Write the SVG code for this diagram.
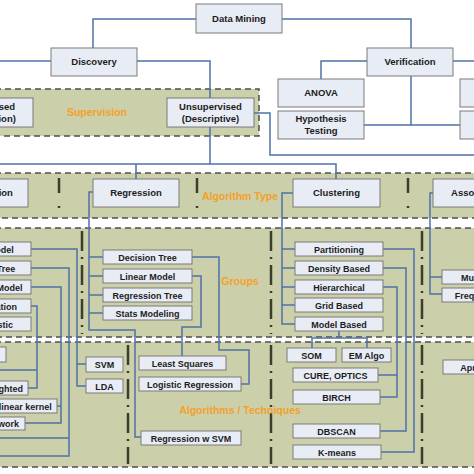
<svg xmlns="http://www.w3.org/2000/svg" width="474" height="474" viewBox="0 0 474 474">
<style>
.band{fill:#ccd0aa;stroke:#4e4e4e;stroke-width:1.5;stroke-dasharray:6 4}
.n rect{fill:#e8ecf5;stroke:#7a7a7a;stroke-width:1}
.t{font-family:"Liberation Sans",Arial,sans-serif;font-weight:700;font-size:9px;fill:#1c1c1c;text-anchor:middle}
.b{font-size:9.5px}
.lbl{font-family:"Liberation Sans",Arial,sans-serif;font-weight:700;font-size:10.5px;fill:#f2a12b;text-anchor:middle}
.conn path{fill:none;stroke:#4f72a6;stroke-width:1.5}
.sep{stroke:#3b3e2b;stroke-width:2.5;fill:none}
.s2{stroke-dasharray:15 13 2 40}
.s3{stroke-dasharray:20 6 2 6}
</style>
<rect width="474" height="474" fill="#ffffff"/>
<g id="bands">
<rect class="band" x="-5" y="89" width="264" height="47"/>
<rect class="band" x="-5" y="173" width="484" height="45"/>
<rect class="band" x="-5" y="228" width="484" height="109"/>
<rect class="band" x="-5" y="342" width="484" height="125"/>
</g>
<g id="separators">
<path class="sep s2" d="M59,178V212M197,178V212M408,178V212"/>
<path class="sep s3" d="M82,231V334M271,231V334M422,231V334"/>
<path class="sep s3" d="M128,345V464M271,345V464M422,345V464"/>
</g>
<g class="conn" id="connectors">
<path d="M196,19H93V48"/>
<path d="M282,19H411V48"/>
<path d="M51,61H-5"/>
<path d="M137,61H210V164"/>
<path d="M-5,164H336V179M136,164V179"/>
<path d="M254,113H270V155H479"/>
<path d="M367,61H321V79"/>
<path d="M453,61H479"/>
<path d="M411,76V125M364,125H460"/>
<path d="M93,192H89V330H135V437H141M89,257H103M89,276H103M89,295H103M89,313H103"/>
<path d="M192,257H219V350H249V384H241"/>
<path d="M192,276H201V327H182V356"/>
<path d="M293,193H282V324H295M282,249H295M282,268H295M282,287H295M282,305H295"/>
<path d="M383,249H414V452H381"/>
<path d="M383,268H406V431H380"/>
<path d="M383,287H397V397H380M397,375H378"/>
<path d="M339,331V338M312,348V338H367V348"/>
<path d="M433,193H430V294H442M430,277H442"/>
<path d="M31,249H77V386H86M77,364H86"/>
<path d="M31,268H69V456H-5M69,438H-5"/>
<path d="M31,287H61V423H25M61,406H57"/>
<path d="M31,306H37V388H28M37,370H-5"/>
</g>
<g id="labels">
<text class="lbl" x="97" y="116">Supervision</text>
<text class="lbl" x="240" y="200">Algorithm Type</text>
<text class="lbl" x="240" y="285">Groups</text>
<text class="lbl" x="240" y="414">Algorithms / Techniques</text>
</g>
<g class="n" id="data-mining"><rect x="196" y="4" width="86" height="29"/><text class="t b" x="239" y="22">Data Mining</text></g>
<g class="n" id="discovery"><rect x="51" y="48" width="86" height="28"/><text class="t b" x="94" y="65">Discovery</text></g>
<g class="n" id="verification"><rect x="367" y="48" width="86" height="28"/><text class="t b" x="410" y="65">Verification</text></g>
<g class="n" id="supervised"><rect x="-54" y="98" width="87" height="29"/><text class="t b" x="-10.5" y="110">Supervised</text><text class="t b" x="-10.5" y="122">(Prediction)</text></g>
<g class="n" id="unsupervised"><rect x="167" y="98" width="87" height="29"/><text class="t b" x="210.5" y="110">Unsupervised</text><text class="t b" x="210.5" y="122">(Descriptive)</text></g>
<g class="n" id="anova"><rect x="278" y="79" width="86" height="28"/><text class="t b" x="321" y="96">ANOVA</text></g>
<g class="n" id="hypothesis"><rect x="278" y="111" width="86" height="28"/><text class="t b" x="321" y="122">Hypothesis</text><text class="t b" x="321" y="134">Testing</text></g>
<g class="n" id="verif-r1"><rect x="460" y="79" width="80" height="28"/></g>
<g class="n" id="verif-r2"><rect x="460" y="111" width="80" height="28"/></g>
<g class="n" id="classification"><rect x="-62" y="179" width="90" height="28"/><text class="t b" x="-18" y="196">Classification</text></g>
<g class="n" id="regression"><rect x="93" y="179" width="86" height="28"/><text class="t b" x="136" y="196">Regression</text></g>
<g class="n" id="clustering"><rect x="293" y="179" width="87" height="28"/><text class="t b" x="336.5" y="196">Clustering</text></g>
<g class="n" id="association"><rect x="433" y="179" width="90" height="28"/><text class="t b" x="478" y="196">Association</text></g>
<g class="n" id="c-linear"><rect x="-59" y="242" width="90" height="14"/><text class="t" x="-14" y="252.5">Linear Model</text></g>
<g class="n" id="c-tree"><rect x="-59" y="261" width="90" height="14"/><text class="t" x="-14" y="271.5">Decision Tree</text></g>
<g class="n" id="c-nonlinear"><rect x="-59" y="280" width="90" height="14"/><text class="t" x="-14" y="290.5">Non-linear Model</text></g>
<g class="n" id="c-reg"><rect x="-59" y="299" width="90" height="14"/><text class="t" x="-14" y="309.5">Regularization</text></g>
<g class="n" id="c-prob"><rect x="-59" y="317" width="90" height="14"/><text class="t" x="-14" y="327.5">Probabilistic</text></g>
<g class="n" id="r-dt"><rect x="103" y="250" width="89" height="14"/><text class="t" x="147.5" y="260.5">Decision Tree</text></g>
<g class="n" id="r-lm"><rect x="103" y="269" width="89" height="14"/><text class="t" x="147.5" y="279.5">Linear Model</text></g>
<g class="n" id="r-rt"><rect x="103" y="288" width="89" height="14"/><text class="t" x="147.5" y="298.5">Regression Tree</text></g>
<g class="n" id="r-sm"><rect x="103" y="306" width="89" height="14"/><text class="t" x="147.5" y="316.5">Stats Modeling</text></g>
<g class="n" id="k-part"><rect x="295" y="242" width="88" height="14"/><text class="t" x="339" y="252.5">Partitioning</text></g>
<g class="n" id="k-dens"><rect x="295" y="261" width="88" height="14"/><text class="t" x="339" y="271.5">Density Based</text></g>
<g class="n" id="k-hier"><rect x="295" y="280" width="88" height="14"/><text class="t" x="339" y="290.5">Hierarchical</text></g>
<g class="n" id="k-grid"><rect x="295" y="298" width="88" height="14"/><text class="t" x="339" y="308.5">Grid Based</text></g>
<g class="n" id="k-model"><rect x="295" y="317" width="88" height="14"/><text class="t" x="339" y="327.5">Model Based</text></g>
<g class="n" id="a-multi"><rect x="442" y="270" width="100" height="14"/><text class="t" x="481.5" y="280.5">Multilevel</text></g>
<g class="n" id="a-freq"><rect x="442" y="288" width="100" height="14"/><text class="t" x="490.7" y="298.5">Frequent Pattern</text></g>
<g class="n" id="c-alg1"><rect x="-60" y="347" width="66" height="15"/></g>
<g class="n" id="c-weighted"><rect x="-60" y="381" width="88" height="14"/><text class="t" x="-14" y="391.5">Locally Weighted</text></g>
<g class="n" id="c-kernel"><rect x="-28" y="399" width="85" height="14"/><text class="t" x="15" y="409.5">Non-linear kernel</text></g>
<g class="n" id="c-nn"><rect x="-55" y="417" width="80" height="13"/><text class="t" x="-14" y="427">Neural Network</text></g>
<g class="n" id="svm"><rect x="86" y="357" width="37" height="15"/><text class="t" x="104.5" y="368">SVM</text></g>
<g class="n" id="lda"><rect x="86" y="379" width="37" height="14"/><text class="t" x="104.5" y="389.5">LDA</text></g>
<g class="n" id="least-squares"><rect x="139" y="356" width="87" height="14"/><text class="t" x="182.5" y="366.5">Least Squares</text></g>
<g class="n" id="logistic"><rect x="139" y="377" width="102" height="14"/><text class="t" x="190" y="387.5">Logistic Regression</text></g>
<g class="n" id="reg-svm"><rect x="141" y="431" width="100" height="14"/><text class="t" x="191" y="441.5">Regression w SVM</text></g>
<g class="n" id="som"><rect x="287" y="348" width="49" height="14"/><text class="t" x="311.5" y="358.5">SOM</text></g>
<g class="n" id="em"><rect x="342" y="348" width="49" height="14"/><text class="t" x="366.5" y="358.5">EM Algo</text></g>
<g class="n" id="cure"><rect x="293" y="368" width="85" height="14"/><text class="t" x="335.5" y="378.5">CURE, OPTICS</text></g>
<g class="n" id="birch"><rect x="293" y="390" width="87" height="14"/><text class="t" x="336.5" y="400.5">BIRCH</text></g>
<g class="n" id="dbscan"><rect x="293" y="424" width="87" height="14"/><text class="t" x="336.5" y="434.5">DBSCAN</text></g>
<g class="n" id="kmeans"><rect x="293" y="445" width="88" height="14"/><text class="t" x="337" y="455.5">K-means</text></g>
<g class="n" id="apriori"><rect x="443" y="360" width="80" height="14"/><text class="t" x="475" y="370.5">Apriori</text></g>
</svg>
